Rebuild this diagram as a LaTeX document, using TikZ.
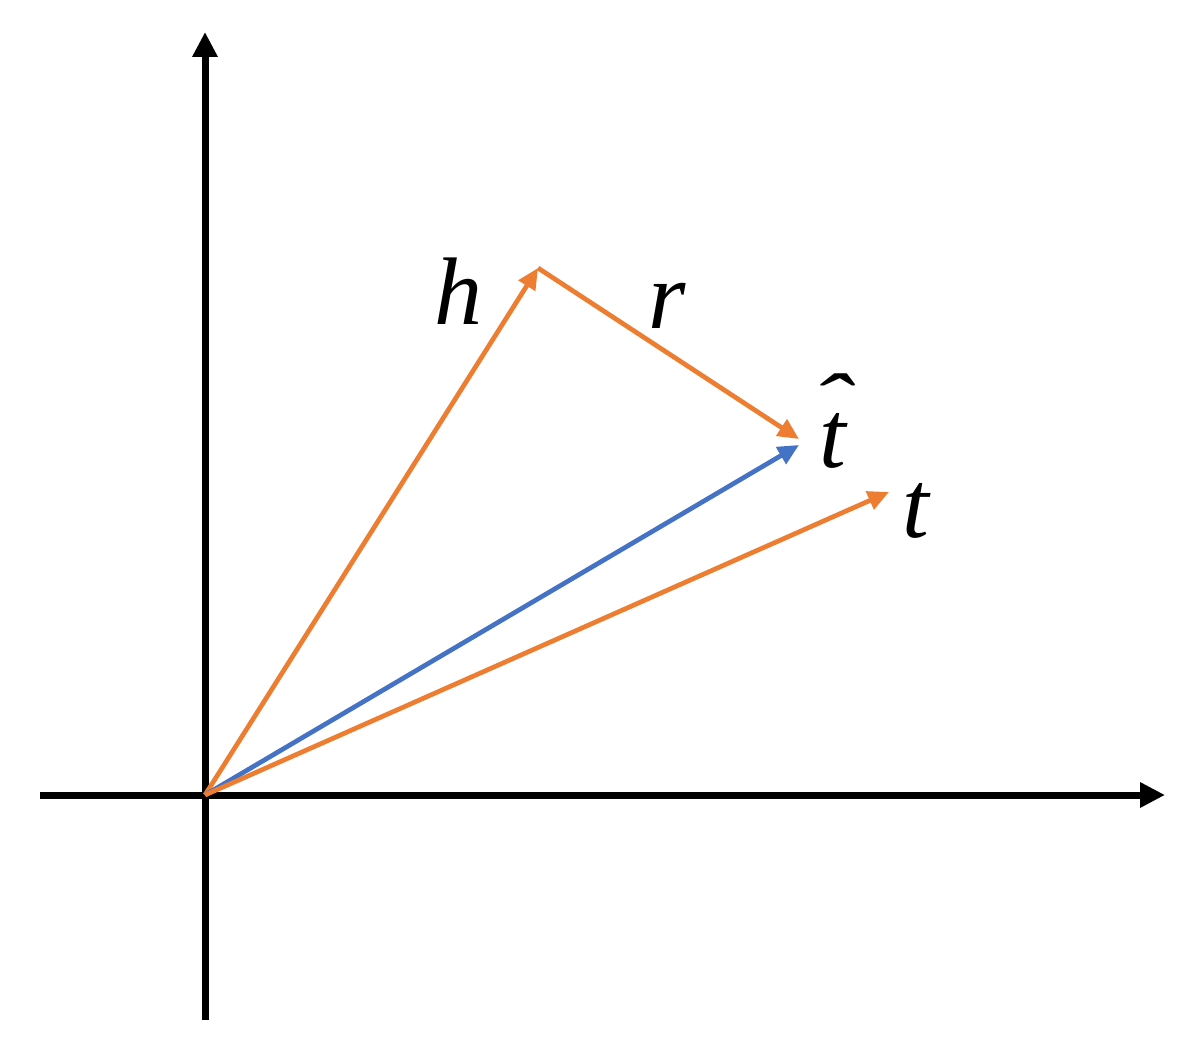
\documentclass[tikz,border=0pt]{standalone}
\usepackage{fontspec}
\setmainfont{Liberation Serif}
\newfontfamily\lblfont{Liberation Serif Italic}
\usetikzlibrary{arrows.meta}
\definecolor{vorange}{RGB}{237,125,49}
\definecolor{vblue}{RGB}{68,114,196}
\tikzset{
  axisline/.style={line width=7pt, -{Triangle[length=25pt,width=24pt]}},
  vecline/.style={line width=4.7pt, -{Triangle[length=21pt,width=19pt]}},
  lbl/.style={inner sep=0pt, anchor=base, font=\fontsize{96}{110}\lblfont}
}
\begin{document}
\begin{tikzpicture}[x=1pt,y=-1pt]
\useasboundingbox (0,0) rectangle (1198,1054);
\coordinate (O) at (205,795);
\coordinate (xL) at (40,795);
\coordinate (xR) at (1165,795);
\coordinate (yB) at (205,1020);
\coordinate (yT) at (205,32);
\coordinate (H) at (538,268);
\coordinate (RT) at (799,439);
\coordinate (TH) at (799,445);
\coordinate (T) at (889,492);
\draw[axisline] (xL) -- (xR);
\draw[axisline] (yB) -- (yT);
\draw[vecline, vorange] (O) -- (H);
\draw[vecline, vorange] (H) -- (RT);
\draw[vecline, vblue] (O) -- (TH);
\draw[vecline, vorange] (O) -- (T);
\node[lbl] (lh) at (458,324) {h};
\node[lbl] (lr) at (667,328) {r};
\node[lbl] (lth) at (833,467) {\makebox[0pt][l]{\raisebox{0.38em}{\kern-0.1em\scalebox{1.25}[0.85]{\char"02C6}}}t};
\node[lbl] (lt) at (916,537) {t};
\end{tikzpicture}
\end{document}
